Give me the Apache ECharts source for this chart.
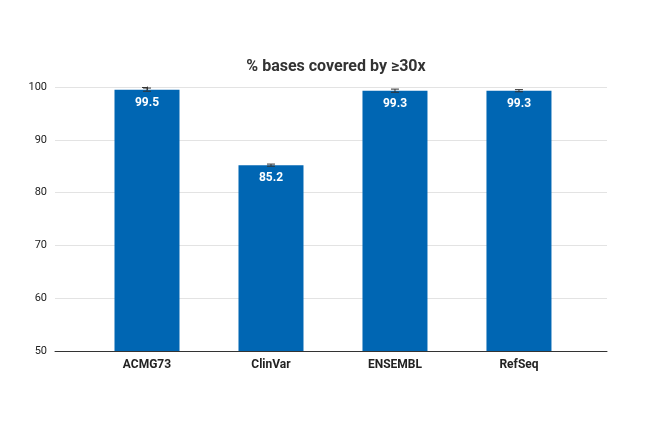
<!DOCTYPE html>
<html><head><meta charset="utf-8">
<script src="https://cdn.jsdelivr.net/npm/echarts@6/dist/echarts.min.js"></script>
<style>html,body{margin:0;padding:0;background:#fff}#c{width:647px;height:426px}</style>
</head><body><div id="c"></div>
<script>
const categories = ['ACMG73','ClinVar','ENSEMBL','RefSeq'];
const values = [99.5, 85.2, 99.3, 99.3];
const errLow = [99.2, 85.0, 99.0, 99.1];
const errHigh = [99.8, 85.4, 99.6, 99.5];
const chart = echarts.init(document.getElementById('c'));
chart.setOption({
  animation:false,
  title:{text:'% bases covered by \u226530x',left:331,top:54,textAlign:'center',
    textStyle:{fontFamily:'Roboto',fontSize:16,fontWeight:'bold',color:'#333'}},
  grid:{left:55,right:40,top:87,bottom:75},
  xAxis:{type:'value',min:-0.742,max:3.71,splitLine:{show:false},
    axisLine:{show:true,onZero:false,lineStyle:{color:'#333'}},axisTick:{show:false},
    axisLabel:{customValues:[0,1,2,3],formatter:v=>categories[Math.round(v)],
      fontFamily:'Roboto',fontWeight:'bold',fontSize:12,color:'#222',margin:8}},
  yAxis:{type:'value',min:50,max:100,interval:10,
    axisLine:{show:true,lineStyle:{color:'#333'}},
    axisLabel:{fontFamily:'Roboto',fontSize:11,color:'#222'},
    splitLine:{lineStyle:{color:'#e3e3e3'}}},
  series:[{type:'bar',data:values.map((v,i)=>[i,v]),barWidth:65,itemStyle:{color:'#0066b3'},
    label:{show:true,position:'insideTop',offset:[0,2],color:'#fff',fontFamily:'Roboto',fontWeight:'bold',fontSize:12,formatter:p=>p.value[1].toFixed(1)}},
   {type:'custom',data:categories.map((c,i)=>[i,errLow[i],errHigh[i]]),z:10,
    renderItem:(params,api)=>{
      const lo=api.coord([api.value(0),api.value(1)]);
      const hi=api.coord([api.value(0),api.value(2)]);
      const w=4,s={stroke:'#333',lineWidth:1};
      return {type:'group',children:[
        {type:'line',shape:{x1:lo[0],y1:lo[1],x2:hi[0],y2:hi[1]},style:s},
        {type:'line',shape:{x1:lo[0]-w,y1:lo[1],x2:lo[0]+w,y2:lo[1]},style:s},
        {type:'line',shape:{x1:hi[0]-w,y1:hi[1],x2:hi[0]+w,y2:hi[1]},style:s}]};
    }}]
});
</script></body></html>
